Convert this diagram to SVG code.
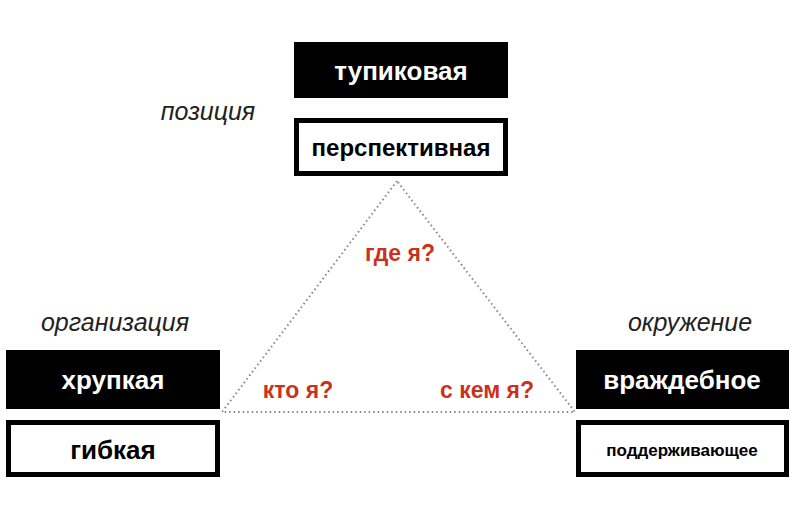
<svg xmlns="http://www.w3.org/2000/svg" width="798" height="505" viewBox="0 0 798 505">
<style>
.b{fill:#000}
.w{fill:#fff;stroke:#000;stroke-width:5}
.t{font-family:"Liberation Sans",Arial,sans-serif;font-weight:bold;text-anchor:middle}
.tw{fill:#fff;font-size:26px}
.tb{fill:#000;font-size:24px}
.i{font-family:"Liberation Sans",Arial,sans-serif;font-style:italic;font-size:25px;fill:#222;text-anchor:middle}
.r{font-family:"Liberation Sans",Arial,sans-serif;font-weight:bold;font-size:23px;fill:#c8321e;text-anchor:middle}
</style>
<rect width="798" height="505" fill="#fff"/>
<g id="connectors">
<polygon points="397,181 222,412 575,412" fill="none" stroke="#888" stroke-width="2" stroke-dasharray="1.5,3"/>
</g>
<text class="i" x="208" y="120">позиция</text>
<text class="i" x="115" y="331">организация</text>
<text class="i" x="690" y="331">окружение</text>
<text class="r" x="400" y="261">где я?</text>
<text class="r" x="298" y="398">кто я?</text>
<text class="r" x="487" y="398">с кем я?</text>
<g id="n-tupik"><rect class="b" x="294" y="42" width="214" height="56"/><text class="t tw" x="401" y="80">тупиковая</text></g>
<g id="n-persp"><rect class="w" x="296.5" y="120.5" width="209" height="53"/><text class="t tb" x="401" y="156">перспективная</text></g>
<g id="n-hrup"><rect class="b" x="6" y="350" width="214" height="59"/><text class="t tw" x="113" y="389">хрупкая</text></g>
<g id="n-gib"><rect class="w" x="8.5" y="422.5" width="209" height="52"/><text class="t tw" x="113" y="459" style="fill:#000">гибкая</text></g>
<g id="n-vrazh"><rect class="b" x="576" y="350" width="213" height="59"/><text class="t tw" x="682" y="389">враждебное</text></g>
<g id="n-podd"><rect class="w" x="578.5" y="422.5" width="208" height="52"/><text class="t" x="682" y="456" style="font-size:17px">поддерживающее</text></g>
</svg>
